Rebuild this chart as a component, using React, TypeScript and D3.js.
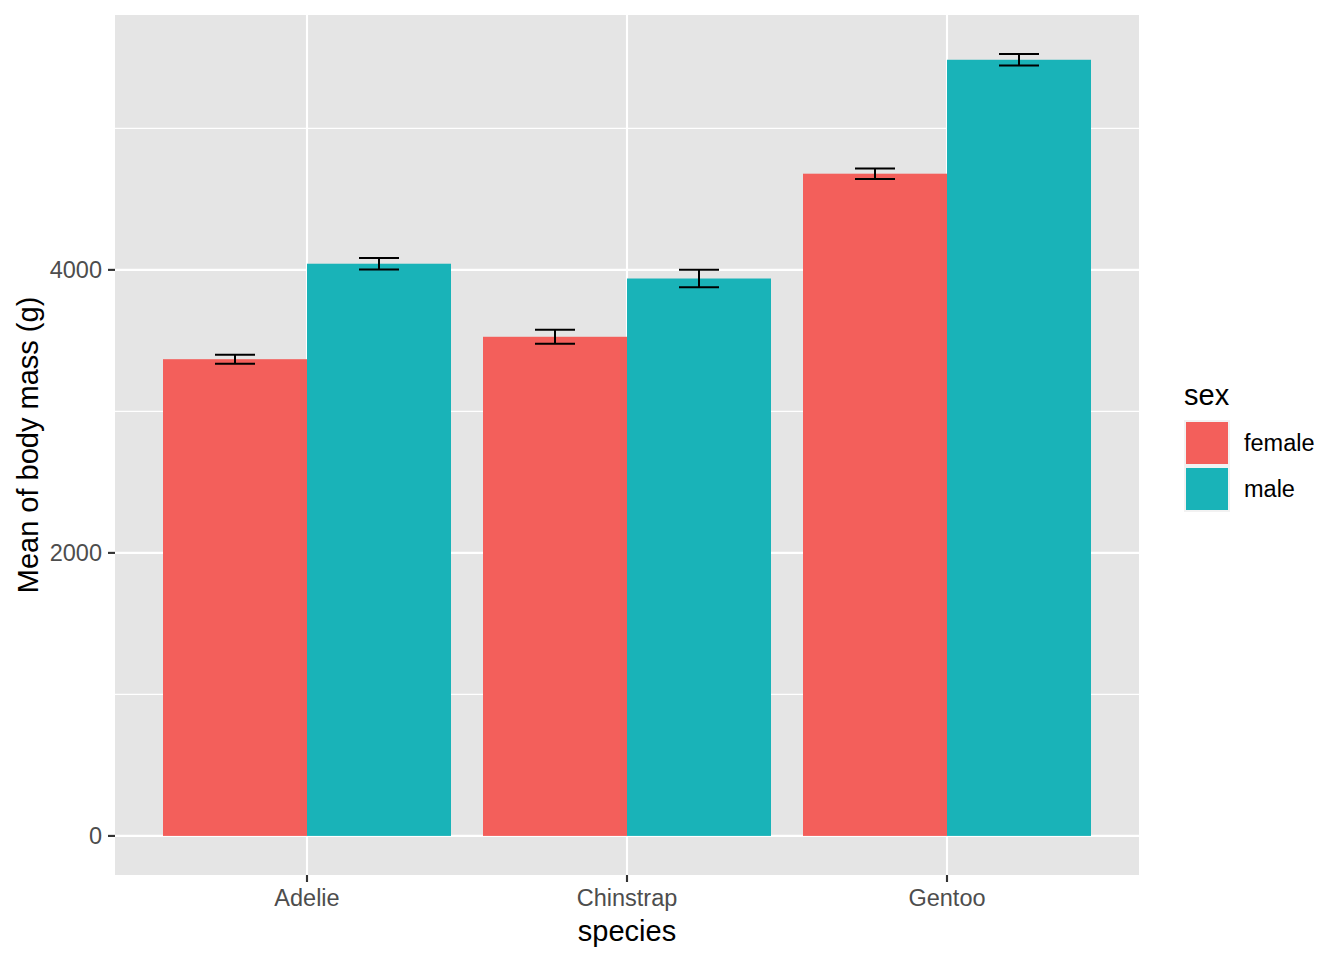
import * as d3 from "d3";

const species = ["Adelie", "Chinstrap", "Gentoo"];
const sexes = ["female", "male"];
const meanFemale = [3368.8, 3527.2, 4679.7];
const meanMale = [4043.5, 3939.0, 5484.8];
const seFemale = [31.5, 48.9, 37.0];
const seMale = [40.6, 62.1, 40.1];
const yTicks = [0, 2000, 4000];
const yMinor = [1000, 3000, 5000];

const barColors: Record<string, string> = { female: "#F35F5B", male: "#19B3B8" };

const W = 1344;
const H = 960;
const panel = { left: 115, right: 1139, top: 15, bottom: 875 };
const font = "'Liberation Sans', Arial, sans-serif";
const tickLen = 7;

type Row = { species: string; sex: string; mean: number; se: number };

const rows: Row[] = species.flatMap((s, i) => [
  { species: s, sex: "female", mean: meanFemale[i], se: seFemale[i] },
  { species: s, sex: "male", mean: meanMale[i], se: seMale[i] },
]);

export default function App() {
  const hi = d3.max(rows, (r) => r.mean + r.se) ?? 0;
  const lo = 0;
  const pad = (hi - lo) * 0.05;
  const y = d3.scaleLinear().domain([lo - pad, hi + pad]).range([panel.bottom, panel.top]);

  // discrete axis: positions 1..n with 0.6 expansion
  const x = d3
    .scaleLinear()
    .domain([0.4, species.length + 0.6])
    .range([panel.left, panel.right]);
  const unit = x(1) - x(0);
  const dodge = d3.scaleBand<string>().domain(sexes).range([-0.45, 0.45]);
  const errHalf = 0.0625;

  return (
    <svg width={W} height={H} style={{ display: "block", position: "absolute", left: 0, top: 0 }}>
      <rect x={0} y={0} width={W} height={H} fill="#fff" />
      <rect
        x={panel.left}
        y={panel.top}
        width={panel.right - panel.left}
        height={panel.bottom - panel.top}
        fill="#E5E5E5"
      />
      {yMinor.map((t) => (
        <line key={"mn" + t} x1={panel.left} x2={panel.right} y1={y(t)} y2={y(t)} stroke="#fff" strokeWidth={1.07} />
      ))}
      {yTicks.map((t) => (
        <line key={"mj" + t} x1={panel.left} x2={panel.right} y1={y(t)} y2={y(t)} stroke="#fff" strokeWidth={2.13} />
      ))}
      {species.map((s, i) => (
        <line key={"vx" + s} x1={x(i + 1)} x2={x(i + 1)} y1={panel.top} y2={panel.bottom} stroke="#fff" strokeWidth={2.13} />
      ))}

      {rows.map((r) => {
        const i = species.indexOf(r.species);
        const x0 = x(i + 1 + (dodge(r.sex) ?? 0));
        const bw = dodge.bandwidth() * unit;
        return (
          <rect
            key={"b" + r.species + r.sex}
            x={x0}
            width={bw}
            y={y(r.mean)}
            height={y(0) - y(r.mean)}
            fill={barColors[r.sex]}
          />
        );
      })}

      {rows.map((r) => {
        const i = species.indexOf(r.species);
        const cx = i + 1 + (dodge(r.sex) ?? 0) + dodge.bandwidth() / 2;
        const yt = y(r.mean + r.se);
        const yb = y(r.mean - r.se);
        return (
          <g key={"e" + r.species + r.sex} stroke="#000" strokeWidth={2} fill="none">
            <line x1={x(cx - errHalf)} x2={x(cx + errHalf)} y1={yt} y2={yt} />
            <line x1={x(cx - errHalf)} x2={x(cx + errHalf)} y1={yb} y2={yb} />
            <line x1={x(cx)} x2={x(cx)} y1={yt} y2={yb} />
          </g>
        );
      })}

      {/* y axis */}
      {yTicks.map((t) => (
        <g key={"yt" + t}>
          <line x1={panel.left - tickLen} x2={panel.left} y1={y(t)} y2={y(t)} stroke="#333" strokeWidth={2.13} />
          <text
            x={panel.left - tickLen - 6}
            y={y(t)}
            dy="0.35em"
            textAnchor="end"
            fontFamily={font}
            fontSize={23.5}
            fill="#4D4D4D"
          >
            {t}
          </text>
        </g>
      ))}
      {/* x axis */}
      {species.map((s, i) => (
        <g key={"xt" + s}>
          <line x1={x(i + 1)} x2={x(i + 1)} y1={panel.bottom} y2={panel.bottom + tickLen} stroke="#333" strokeWidth={2.13} />
          <text
            x={x(i + 1)}
            y={898}
            dy="0.35em"
            textAnchor="middle"
            fontFamily={font}
            fontSize={23.5}
            fill="#4D4D4D"
          >
            {s}
          </text>
        </g>
      ))}

      <text
        x={(panel.left + panel.right) / 2}
        y={931}
        dy="0.35em"
        textAnchor="middle"
        fontFamily={font}
        fontSize={29}
        fill="#000"
      >
        species
      </text>
      <text
        transform={`translate(28, ${(panel.top + panel.bottom) / 2}) rotate(-90)`}
        dy="0.35em"
        textAnchor="middle"
        fontFamily={font}
        fontSize={29}
        fill="#000"
      >
        Mean of body mass (g)
      </text>

      {/* legend */}
      <text x={1184} y={395} dy="0.35em" fontFamily={font} fontSize={29} fill="#000">
        sex
      </text>
      {sexes.map((s, k) => (
        <g key={"lg" + s} transform={`translate(1184, ${420 + k * 46})`}>
          <rect x={0} y={0} width={46} height={46} fill="#F2F2F2" />
          <rect x={2} y={2} width={42} height={42} fill={barColors[s]} />
          <text x={60} y={23} dy="0.35em" fontFamily={font} fontSize={23.5} fill="#000">
            {s}
          </text>
        </g>
      ))}
    </svg>
  );
}
